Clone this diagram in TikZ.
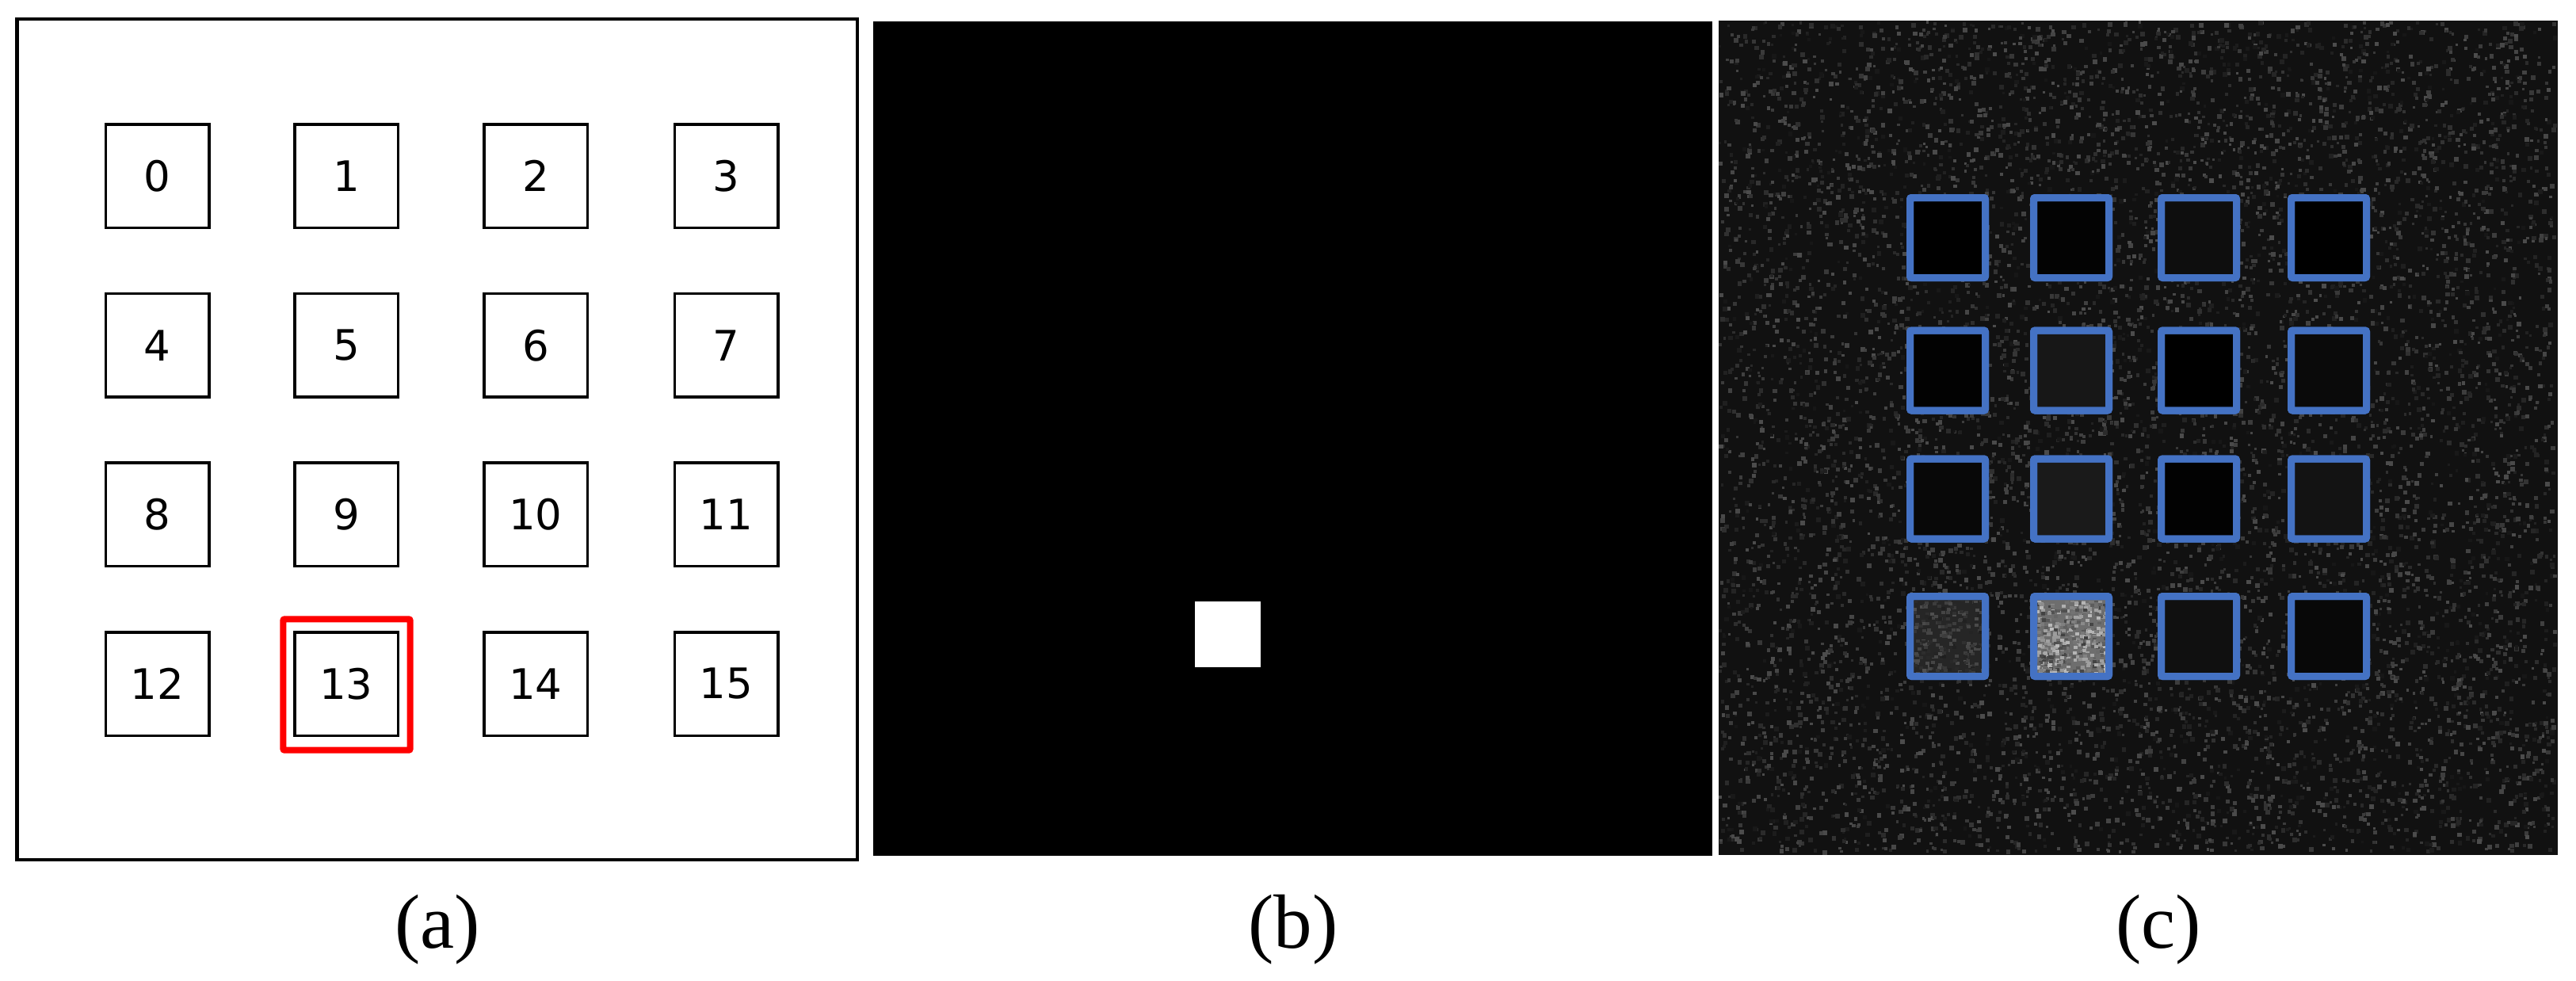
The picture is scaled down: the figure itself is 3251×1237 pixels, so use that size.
\documentclass[tikz,border=0pt]{standalone}
\usepackage{fontspec}
\setmainfont{Liberation Serif}
\newfontfamily\digitfont{DejaVu Sans}
\definecolor{boxblue}{HTML}{4472C4}
\definecolor{cbg}{HTML}{111111}
\definecolor{hotred}{HTML}{FF0000}
\begin{document}
\begin{tikzpicture}[x=1pt,y=-1pt,
  cell/.style={draw=black, line width=3.5pt, minimum width=130.5pt, minimum height=130.5pt, inner sep=0pt, font=\digitfont\fontsize{53}{60}\selectfont},
  bluebox/.style={draw=boxblue, line width=9pt, rounded corners=2pt, minimum width=95pt, minimum height=101pt, inner sep=0pt},
  caption/.style={font=\fontsize{97}{100}\selectfont, anchor=base, inner sep=0pt}]
\useasboundingbox (0,0) rectangle (3251,1237);
\fill[white] (0,0) rectangle (3251,1237);

% ---------- panel (a) ----------
\draw[line width=4.5pt] (21.7,24) rectangle (1082,1085);
\foreach \n/\cx/\cy in {0/198.5/222, 1/437/222, 2/676/222, 3/916.5/222,
                         4/198.5/435.7, 5/437/435.7, 6/676/435.7, 7/916.5/435.7,
                         8/198.5/649.3, 9/437/649.3, 10/676/649.3, 11/916.5/649.3,
                         12/198.5/863, 13/437/863, 14/676/863, 15/916.5/863}{
  \node[cell] (a\n) at (\cx,\cy) {\n};
}
\draw[hotred, line width=8pt, rounded corners=2pt] (357.3,781.3) rectangle (517.7,946.7);

% ---------- panel (b) ----------
\fill[black] (1102,27) rectangle (2161,1080);
\fill[white] (1508,759) rectangle (1591,842);

% ---------- panel (c) ----------
\fill[cbg] (2169,26) rectangle (3228,1079);
\pgfmathsetseed{7}
\foreach \i in {1,...,9000}{
  \pgfmathsetmacro\xx{2169+1053*rnd}
  \pgfmathsetmacro\yy{26+1047*rnd}
  \pgfmathtruncatemacro\gg{9+22*rnd}
  \pgfmathsetmacro\ss{3+3*rnd}
  \fill[white!\gg!black] (\xx,\yy) rectangle ++(\ss,\ss);
}
\foreach \n/\cx/\cy/\col in {0/2458/300/000000, 1/2614/300/030303, 2/2775/300/0e0e0e, 3/2939/300/000000,
                              4/2458/467.5/020202, 5/2614/467.5/171717, 6/2775/467.5/000000, 7/2939/467.5/0a0a0a,
                              8/2458/629.5/080808, 9/2614/629.5/1a1a1a, 10/2775/629.5/020202, 11/2939/629.5/131313,
                              12/2458/803/262626, 13/2614/803/6e6e6e, 14/2775/803/101010, 15/2939/803/080808}{
  \definecolor{fillc}{HTML}{\col}
  \node[bluebox, fill=fillc] (c\n) at (\cx,\cy) {};
}
% texture inside the bright cell 13
\begin{scope}
\clip (2571,758) rectangle (2657,848);
\foreach \i in {1,...,450}{
  \pgfmathsetmacro\xx{2568+90*rnd}
  \pgfmathsetmacro\yy{755+95*rnd}
  \pgfmathtruncatemacro\gg{25+50*rnd}
  \fill[white!\gg!black] (\xx,\yy) rectangle ++(5,4);
}
\end{scope}
\begin{scope}
\clip (2415,758) rectangle (2501,848);
\foreach \i in {1,...,220}{
  \pgfmathsetmacro\xx{2412+90*rnd}
  \pgfmathsetmacro\yy{755+95*rnd}
  \pgfmathtruncatemacro\gg{12+20*rnd}
  \fill[white!\gg!black] (\xx,\yy) rectangle ++(5,4);
}
\end{scope}
\foreach \n/\cx/\cy in {0/2458/300, 1/2614/300, 2/2775/300, 3/2939/300,
                         4/2458/467.5, 5/2614/467.5, 6/2775/467.5, 7/2939/467.5,
                         8/2458/629.5, 9/2614/629.5, 10/2775/629.5, 11/2939/629.5,
                         12/2458/803, 13/2614/803, 14/2775/803, 15/2939/803}{
  \node[bluebox] (cb\n) at (\cx,\cy) {};
}

% ---------- captions ----------
\node[caption] (capa) at (552,1196) {(a)};
\node[caption] (capb) at (1632,1196) {(b)};
\node[caption] (capc) at (2724,1196) {(c)};
\end{tikzpicture}
\end{document}
